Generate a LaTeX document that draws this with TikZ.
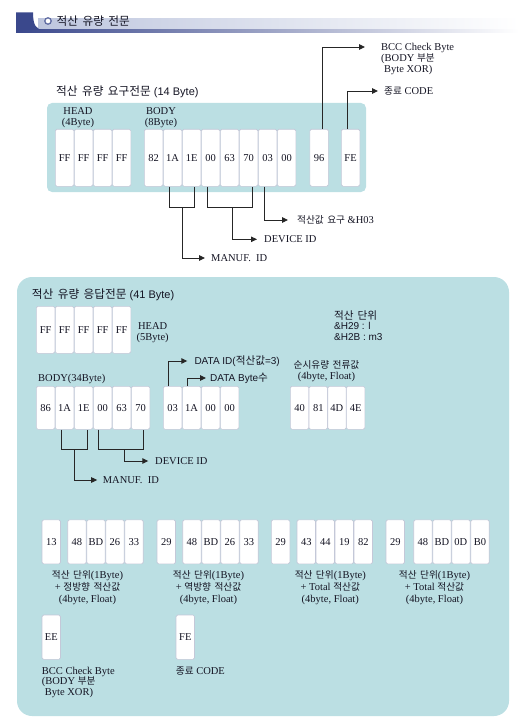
\documentclass[tikz,border=0pt]{standalone}
\usepackage{fontspec}
\setmainfont{Liberation Serif}
\newfontfamily\kr[Scale=0.92,WordSpace=1.6]{Noto Sans CJK KR}
\newfontfamily\krs[Scale=1.06,WordSpace=1.7]{Noto Sans CJK KR}
\newfontfamily\lsans{Liberation Sans}
\usetikzlibrary{arrows.meta,calc}
\definecolor{panel}{RGB}{187,223,227}
\definecolor{cellb}{RGB}{196,200,216}
\definecolor{hdark}{RGB}{58,72,140}
\definecolor{hlight}{RGB}{190,198,222}
\definecolor{txt}{RGB}{20,20,35}
\tikzset{
  cell/.style={draw=cellb, fill=white, rounded corners=1.5pt, line width=0.7pt,
    inner sep=0pt, anchor=north west, minimum width=18.5pt,
    font=\fontsize{10.5}{12}\selectfont, text=txt},
  lbl/.style={inner sep=0pt, font=\fontsize{10.5}{11}\selectfont, text=txt},
  sans/.style={inner sep=0pt, font=\lsans\fontsize{11}{12}\selectfont, text=txt},
  arr/.style={draw=black!85, line width=0.9pt, -{Triangle[length=6pt,width=5.5pt]}},
  ln/.style={draw=black!85, line width=0.9pt},
}
\begin{document}
\begin{tikzpicture}[x=1pt,y=-1pt]
\useasboundingbox (0,0) rectangle (519,722);

% ---------- header ----------
\shade[left color=hlight, right color=white] (38,18.3) rectangle (519,30);
\shade[left color=hdark, middle color=hdark!55, right color=white] (16,30) rectangle (519,33);
\fill[hdark] (16,12.3) -- (33,12.3) .. controls (33,25) and (36,30) .. (44,30) -- (16,30) -- cycle;
\draw[hdark!80, fill=white, line width=1.3pt] (48,21) circle (3.2);
\node[sans, anchor=west] (htitle) at (56.5,21) {{\krs 적산 유량 전문}};

% ---------- request panel ----------
\fill[panel, rounded corners=5pt] (47,103) rectangle (366,192);
\node[sans, anchor=west] (ttl1) at (56,92) {{\krs 적산 유량 요구전문} (14 Byte)};
\node[lbl, align=center] (theadL) at (78,117.5) {HEAD\\(4Byte)};
\node[lbl, align=center] (tbodyL) at (161,117.5) {BODY\\(8Byte)};

\foreach \x/\t [count=\i] in {55/FF,74/FF,93/FF,112/FF}
  \node[cell, minimum height=57pt] (tH\i) at (\x,129) {\t};
\foreach \x/\t [count=\i] in {144/82,163/1A,182/1E,201/00,220/63,239/70,258/03,277/00}
  \node[cell, minimum height=57pt] (tB\i) at (\x,129) {\t};
\node[cell, minimum height=57pt] (t96) at (309.5,129) {96};
\node[cell, minimum height=57pt] (tFE) at (341,129) {FE};

\node[lbl, anchor=north west, align=left] (bccT) at (381,43.3)
  {BCC Check Byte\\(BODY {\kr 부분}\\\hspace*{3pt}Byte XOR)};
\coordinate (bccTip) at ($(bccT.north west)+(-16,3.7)$);
\draw[arr] ([xshift=3pt]t96.north) |- (bccTip);
\node[lbl, anchor=west] (endT) at (384,91) {{\kr 종료} CODE};
\draw[arr] ([xshift=-3pt]tFE.north) |- ([xshift=-6pt]endT.west);

\node[lbl, anchor=west] (manufT) at (211,258) {MANUF.\ \ ID};
\node[lbl, anchor=west] (devT) at (264,239.3) {DEVICE ID};
\node[lbl, anchor=west] (reqT) at (297,220) {{\kr 적산값 요구} \&H03};

\draw[ln] ([xshift=-3pt]tB2.south) -- ++(0,21) -| ([xshift=3pt]tB3.south);
\coordinate (manmidT) at ($(tB2.south)!0.5!(tB3.south)+(0,21)$);
\draw[arr] (manmidT) |- ([xshift=-6pt]manufT.west);
\draw[ln] ([xshift=-3.5pt]tB4.south) -- ++(0,21) -| ([xshift=3.5pt]tB6.south);
\coordinate (devmidT) at ($(tB4.south)!0.5!(tB6.south)+(3.3,21)$);
\draw[arr] (devmidT) |- ([xshift=-7pt]devT.west);
\draw[arr] ([xshift=-3pt]tB7.south) |- ([xshift=-9pt]reqT.west);

% ---------- response panel ----------
\fill[panel, rounded corners=15pt] (17,277) rectangle (509,716);
\node[sans, anchor=west] (ttl2) at (31.7,295) {{\krs 적산 유량 응답전문} (41 Byte)};

\foreach \x [count=\i] in {36,55,74,93,112}
  \node[cell, minimum height=47pt] (bH\i) at (\x,306) {FF};
\node[lbl, align=center] (bheadL) at (152.7,332.3) {HEAD\\(5Byte)};
\node[sans, anchor=north west, align=left, font=\lsans\fontsize{10}{10.5}\selectfont] (unitL) at (334,310.3)
  {{\krs 적산 단위}\\\&H29 : l\\\&H2B : m3};

\node[lbl, anchor=west] (bbodyL) at (38,379) {BODY(34Byte)};
\foreach \x/\t [count=\i] in {36/86,55/1A,74/1E,93/00,112/63,131/70}
  \node[cell, minimum height=43pt] (bB\i) at (\x,386) {\t};
\foreach \x/\t [count=\i] in {163/03,182/1A,201/00,220/00}
  \node[cell, minimum height=43pt] (bD\i) at (\x,386) {\t};
\foreach \x/\t [count=\i] in {290/40,308.7/81,327.3/4D,346/4E}
  \node[cell, minimum height=43pt] (bV\i) at (\x,386) {\t};
\node[lbl, align=center] (flowL) at (326.5,370.8) {{\kr 순시유량 전류값}\\(4byte, Float)};

\node[sans, anchor=west, font=\lsans\fontsize{10}{11}\selectfont] (dataid) at (194.3,361) {DATA ID({\krs 적산값}=3)};
\node[sans, anchor=west, font=\lsans\fontsize{10}{11}\selectfont] (databyte) at (210,378) {DATA Byte{\krs 수}};
\draw[arr] ([xshift=-4pt]bD1.north) |- ([xshift=-7pt]dataid.west);
\draw[arr] ([xshift=-4pt]bD2.north) |- ([xshift=-4pt]databyte.west);

\node[lbl, anchor=west] (manufB) at (102.7,480) {MANUF.\ \ ID};
\node[lbl, anchor=west] (devB) at (155,461) {DEVICE ID};
\draw[ln] ([xshift=-3.5pt]bB2.south) -- ++(0,20) -| ([xshift=3.5pt]bB3.south);
\coordinate (manmidB) at ($(bB2.south)!0.5!(bB3.south)+(0,20)$);
\draw[arr] (manmidB) |- ([xshift=-5.5pt]manufB.west);
\draw[ln] ([xshift=-4pt]bB4.south) -- ++(0,20) -| ([xshift=3pt]bB6.south);
\coordinate (devmidB) at ($(bB4.south)!0.5!(bB6.south)+(3.3,20)$);
\draw[arr] (devmidB) |- ([xshift=-6.7pt]devB.west);

% value groups
\node[cell, minimum height=44pt] (g1a) at (41.7,519.5) {13};
\foreach \x/\t [count=\i] in {67.3/48,86.3/BD,105.3/26,124.3/33}
  \node[cell, minimum height=44pt] (g1v\i) at (\x,519.5) {\t};
\node[cell, minimum height=44pt] (g2a) at (156.7,519.5) {29};
\foreach \x/\t [count=\i] in {182.3/48,201.3/BD,220.3/26,239.3/33}
  \node[cell, minimum height=44pt] (g2v\i) at (\x,519.5) {\t};
\node[cell, minimum height=44pt] (g3a) at (271,519.5) {29};
\foreach \x/\t [count=\i] in {296.7/43,315.7/44,334.7/19,353.7/82}
  \node[cell, minimum height=44pt] (g3v\i) at (\x,519.5) {\t};
\node[cell, minimum height=44pt] (g4a) at (385.7,519.5) {29};
\foreach \x/\t [count=\i] in {413.3/48,432.3/BD,451.3/0D,470.3/B0}
  \node[cell, minimum height=44pt] (g4v\i) at (\x,519.5) {\t};

\tikzset{glbl/.style={lbl, anchor=north, align=center, font=\fontsize{10.5}{11.7}\selectfont}}
\node[glbl] (g1L) at (87.5,570.5) {{\kr 적산 단위}(1Byte)\\+ {\kr 정방향 적산값}\\(4byte, Float)};
\node[glbl] (g2L) at (208.5,570.5) {{\kr 적산 단위}(1Byte)\\+ {\kr 역방향 적산값}\\(4byte, Float)};
\node[glbl] (g3L) at (330.3,570.5) {{\kr 적산 단위}(1Byte)\\+ Total {\kr 적산값}\\(4byte, Float)};
\node[glbl] (g4L) at (434.5,570.5) {{\kr 적산 단위}(1Byte)\\+ Total {\kr 적산값}\\(4byte, Float)};

% BCC / end
\node[cell, minimum height=44.3pt] (bEE) at (41.7,614.7) {EE};
\node[cell, minimum height=44.3pt] (bFE) at (175.7,614.7) {FE};
\node[lbl, anchor=north west, align=left, font=\fontsize{10.5}{10.5}\selectfont] (bccB) at (41.7,667)
  {BCC Check Byte\\(BODY {\kr 부분}\\\hspace*{3pt}Byte XOR)};
\node[lbl, anchor=west] (endB) at (175.7,671) {{\kr 종료} CODE};
\end{tikzpicture}
\end{document}
